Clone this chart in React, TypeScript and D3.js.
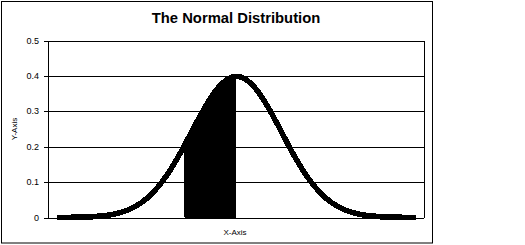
import React from "react";
import * as d3 from "d3";

const xValues: number[] = d3.range(81).map((i) => -4 + i * 0.1);
const densityValues: number[] = [
  0.0001, 0.0002, 0.0003, 0.0004, 0.0006, 0.0009, 0.0012, 0.0017, 0.0024, 0.0033,
  0.0044, 0.006, 0.0079, 0.0104, 0.0136, 0.0175, 0.0224, 0.0283, 0.0355, 0.044,
  0.054, 0.0656, 0.079, 0.094, 0.1109, 0.1295, 0.1497, 0.1714, 0.1942, 0.2179,
  0.242, 0.2661, 0.2897, 0.3123, 0.3332, 0.3521, 0.3683, 0.3814, 0.391, 0.397,
  0.3989,
  0.397, 0.391, 0.3814, 0.3683, 0.3521, 0.3332, 0.3123, 0.2897, 0.2661, 0.242,
  0.2179, 0.1942, 0.1714, 0.1497, 0.1295, 0.1109, 0.094, 0.079, 0.0656, 0.054,
  0.044, 0.0355, 0.0283, 0.0224, 0.0175, 0.0136, 0.0104, 0.0079, 0.006, 0.0044,
  0.0033, 0.0024, 0.0017, 0.0012, 0.0009, 0.0006, 0.0004, 0.0003, 0.0002, 0.0001,
];
const yTicks: number[] = [0, 0.1, 0.2, 0.3, 0.4, 0.5];
const shadeFrom = -1.16;
const shadeTo = 0;
const title = "The Normal Distribution";
const xLabel = "X-Axis";
const yLabel = "Y-Axis";

export default function App() {
  const W = 525;
  const H = 245;
  const plot = { left: 48, right: 424, top: 40.5, bottom: 217.5 };
  const x = d3.scaleLinear().domain([-4, 4]).range([57, 416]);
  const y = d3.scaleLinear().domain([0, 0.5]).range([plot.bottom, plot.top]);

  const pts = xValues.map((xv, i) => ({ x: xv, y: densityValues[i] }));
  const line = d3
    .line<{ x: number; y: number }>()
    .x((d) => x(d.x))
    .y((d) => y(d.y));
  const area = d3
    .area<{ x: number; y: number }>()
    .x((d) => x(d.x))
    .y0(y(0))
    .y1((d) => y(d.y));
  const shadePts = pts.filter((d) => d.x >= shadeFrom - 0.1 - 1e-9 && d.x <= shadeTo + 1e-9);

  const font = "Arial, 'Liberation Sans', sans-serif";

  return (
    <svg
      width={W}
      height={H}
      style={{ position: "absolute", left: 0, top: 0, background: "#fff" }}
    >
      <defs>
        <clipPath id="shadeClip">
          <rect x={x(shadeFrom)} y={0} width={x(shadeTo) - x(shadeFrom)} height={H} />
        </clipPath>
        <filter id="alias" x={0} y={0} width={W} height={H} filterUnits="userSpaceOnUse">
          <feComponentTransfer>
            <feFuncA type="discrete" tableValues="0 1" />
          </feComponentTransfer>
        </filter>
      </defs>
      <rect x={1.5} y={1.5} width={431} height={241.5} fill="#fff" stroke="#000" strokeWidth={1} />
      <text
        x={236}
        y={23}
        textAnchor="middle"
        fontFamily={font}
        fontWeight="bold"
        fontSize={14.8}
      >
        {title}
      </text>
      {yTicks.map((t) => (
        <g key={t}>
          <line
            x1={plot.left - 4}
            x2={plot.right}
            y1={Math.round(y(t)) + 0.5}
            y2={Math.round(y(t)) + 0.5}
            stroke="#000"
            strokeWidth={1}
            shapeRendering="crispEdges"
          />
          <text
            x={39}
            y={y(t)}
            dy="0.35em"
            textAnchor="end"
            fontFamily={font}
            fontSize={9}
          >
            {t === 0 ? "0" : t.toFixed(1)}
          </text>
        </g>
      ))}
      <line x1={plot.left + 0.5} x2={plot.left + 0.5} y1={plot.top} y2={plot.bottom} stroke="#000" shapeRendering="crispEdges" />
      <line x1={plot.right + 0.5} x2={plot.right + 0.5} y1={plot.top} y2={plot.bottom} stroke="#000" shapeRendering="crispEdges" />
      <g filter="url(#alias)">
        <path d={area(shadePts) || ""} fill="#000" clipPath="url(#shadeClip)" />
        <path
          d={line(pts) || ""}
          fill="none"
          stroke="#000"
          strokeWidth={5.5}
          strokeLinejoin="miter"
        />
      </g>
      <text x={235} y={235} textAnchor="middle" fontFamily={font} fontSize={8}>
        {xLabel}
      </text>
      <text
        transform={`translate(17,${(plot.top + plot.bottom) / 2}) rotate(-90)`}
        textAnchor="middle"
        fontFamily={font}
        fontSize={8}
      >
        {yLabel}
      </text>
    </svg>
  );
}
